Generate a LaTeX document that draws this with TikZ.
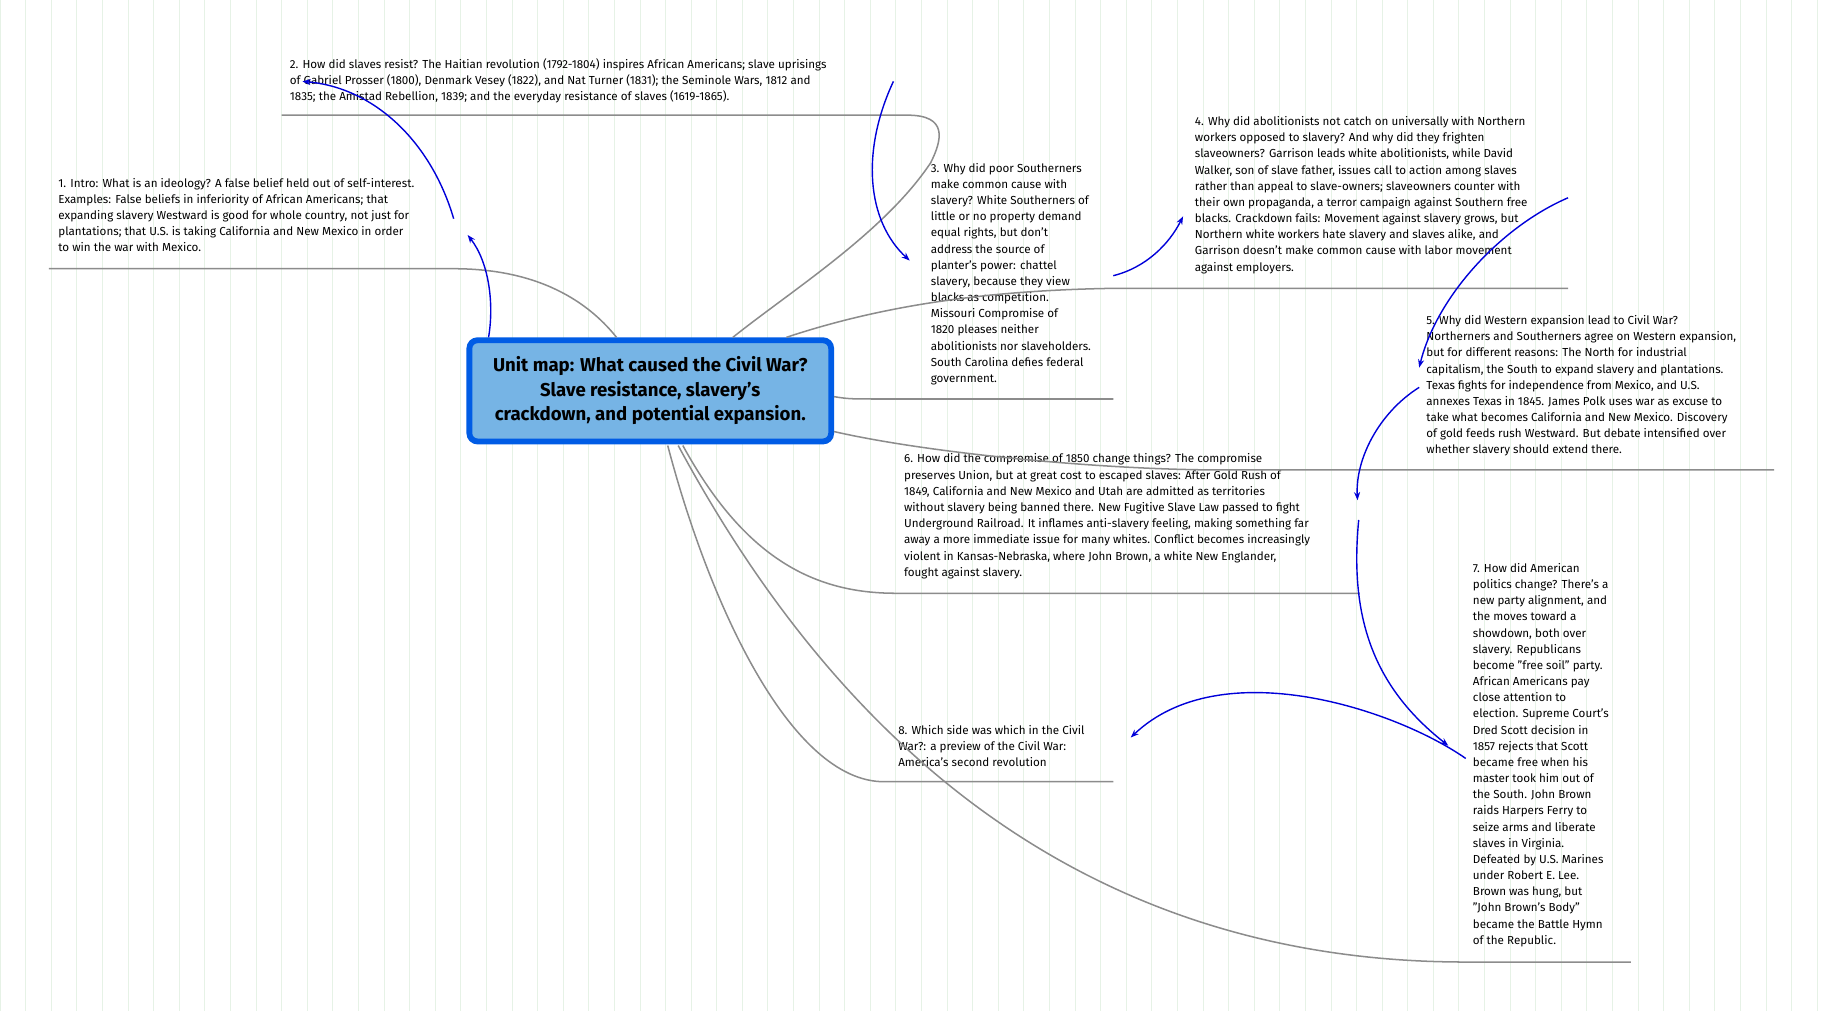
\documentclass[tikz,border=0pt]{standalone}
\usepackage{fontspec}
\setmainfont{Fira Sans}
\usetikzlibrary{arrows.meta}
\begin{document}
\begin{tikzpicture}[x=1pt,y=-1pt,
  txt/.style={anchor=north west,align=left,inner sep=0pt,font=\fontsize{10}{13.9}\selectfont},
  conn/.style={draw=black!45,line width=1.3pt},
  arr/.style={draw=blue!85!black,line width=1.2pt,-{Stealth[length=7pt]}}]
\useasboundingbox (0,0) rectangle (1568,869);
\fill[white] (0,0) rectangle (1568,869);
\draw[green!30!gray!15,line width=0.5pt,step=22] (0,0) grid (1568,869);
\node[draw=blue!60!cyan!90!black,line width=5pt,fill=cyan!70!blue!55,rounded corners=7pt,
  minimum width=311pt,minimum height=87pt,align=center,
  font=\fontsize{16}{21}\selectfont\bfseries] (c) at (559,336)
  {Unit map: What caused the Civil War?\\Slave resistance, slavery's\\crackdown, and potential expansion.};
\node[txt] (n1) at (50,153) {1. Intro: What is an ideology? A false belief held out of self-interest.\\Examples: False beliefs in inferiority of African Americans; that\\expanding slavery Westward is good for whole country, not just for\\plantations; that U.S. is taking California and New Mexico in order\\to win the war with Mexico.};
\node[txt] (n2) at (249,50) {2. How did slaves resist? The Haitian revolution (1792-1804) inspires African Americans; slave uprisings\\of Gabriel Prosser (1800), Denmark Vesey (1822), and Nat Turner (1831); the Seminole Wars, 1812 and\\1835; the Amistad Rebellion, 1839; and the everyday resistance of slaves (1619-1865).};
\node[txt] (n3) at (800,140) {3. Why did poor Southerners\\make common cause with\\slavery? White Southerners of\\little or no property demand\\equal rights, but don't\\address the source of\\planter's power: chattel\\slavery, because they view\\blacks as competition.\\Missouri Compromise of\\1820 pleases neither\\abolitionists nor slaveholders.\\South Carolina defies federal\\government.};
\node[txt] (n4) at (1027,100) {4. Why did abolitionists not catch on universally with Northern\\workers opposed to slavery? And why did they frighten\\slaveowners? Garrison leads white abolitionists, while David\\Walker, son of slave father, issues call to action among slaves\\rather than appeal to slave-owners; slaveowners counter with\\their own propaganda, a terror campaign against Southern free\\blacks. Crackdown fails: Movement against slavery grows, but\\Northern white workers hate slavery and slaves alike, and\\Garrison doesn't make common cause with labor movement\\against employers.};
\node[txt] (n5) at (1226,271) {5. Why did Western expansion lead to Civil War?\\Northerners and Southerners agree on Western expansion,\\but for different reasons: The North for industrial\\capitalism, the South to expand slavery and plantations.\\Texas fights for independence from Mexico, and U.S.\\annexes Texas in 1845. James Polk uses war as excuse to\\take what becomes California and New Mexico. Discovery\\of gold feeds rush Westward. But debate intensified over\\whether slavery should extend there.};
\node[txt] (n6) at (777,390) {6. How did the compromise of 1850 change things? The compromise\\preserves Union, but at great cost to escaped slaves: After Gold Rush of\\1849, California and New Mexico and Utah are admitted as territories\\without slavery being banned there. New Fugitive Slave Law passed to fight\\Underground Railroad. It inflames anti-slavery feeling, making something far\\away a more immediate issue for many whites. Conflict becomes increasingly\\violent in Kansas-Nebraska, where John Brown, a white New Englander,\\fought against slavery.};
\node[txt] (n7) at (1266,484) {7. How did American\\politics change? There's a\\new party alignment, and\\the moves toward a\\showdown, both over\\slavery. Republicans\\become "free soil" party.\\African Americans pay\\close attention to\\election. Supreme Court's\\Dred Scott decision in\\1857 rejects that Scott\\became free when his\\master took him out of\\the South. John Brown\\raids Harpers Ferry to\\seize arms and liberate\\slaves in Virginia.\\Defeated by U.S. Marines\\under Robert E. Lee.\\Brown was hung, but\\"John Brown's Body"\\became the Battle Hymn\\of the Republic.};
\node[txt] (n8) at (772,623) {8. Which side was which in the Civil\\War?: a preview of the Civil War:\\America's second revolution};
% underline endpoints
\coordinate (u1a) at (42,231); \coordinate (u1b) at (390,231);
\coordinate (u2a) at (242,99); \coordinate (u2b) at (780,99);
\coordinate (u3a) at (760,343); \coordinate (u3b) at (957,343);
\coordinate (u4a) at (950,248); \coordinate (u4b) at (1348,248);
\coordinate (u5a) at (1050,404); \coordinate (u5b) at (1525,404);
\coordinate (u6a) at (770,510); \coordinate (u6b) at (1169,510);
\coordinate (u7a) at (1260,827); \coordinate (u7b) at (1402,827);
\coordinate (u8a) at (760,672); \coordinate (u8b) at (957,672);
\draw[conn] (u1a) -- (u1b) .. controls (470,231) and (510,265) .. (530,290);
\draw[conn] (u2a) -- (u2b) .. controls (815,99) and (810,120) .. (800,140) .. controls (760,200) and (680,250) .. (630,290);
\draw[conn] (717,341) .. controls (730,343) .. (u3a) -- (u3b);
\draw[conn] (676,290) .. controls (760,262) and (850,250) .. (u4a) -- (u4b);
\draw[conn] (717,371) .. controls (800,390) and (950,404) .. (u5a) -- (u5b);
\draw[conn] (587,383) .. controls (640,480) and (700,510) .. (u6a) -- (u6b);
\draw[conn] (583,383) .. controls (700,600) and (900,827) .. (u7a) -- (u7b);
\draw[conn] (574,383) .. controls (610,520) and (680,672) .. (u8a) -- (u8b);
% blue arrows
\draw[arr] (420,290) .. controls (425,260) and (420,225) .. (402,202);
\draw[arr] (390,188) .. controls (370,120) and (320,75) .. (260,70);
\draw[arr] (768,70) .. controls (740,130) and (745,190) .. (782,224);
\draw[arr] (957,237) .. controls (985,230) and (1005,210) .. (1017,186);
\draw[arr] (1348,170) .. controls (1290,195) and (1235,255) .. (1220,316);
\draw[arr] (1220,333) .. controls (1185,355) and (1165,395) .. (1167,430);
\draw[arr] (1168,447) .. controls (1160,530) and (1180,590) .. (1245,641);
\draw[arr] (1260,652) .. controls (1200,610) and (1050,560) .. (972,634);
\end{tikzpicture}
\end{document}
